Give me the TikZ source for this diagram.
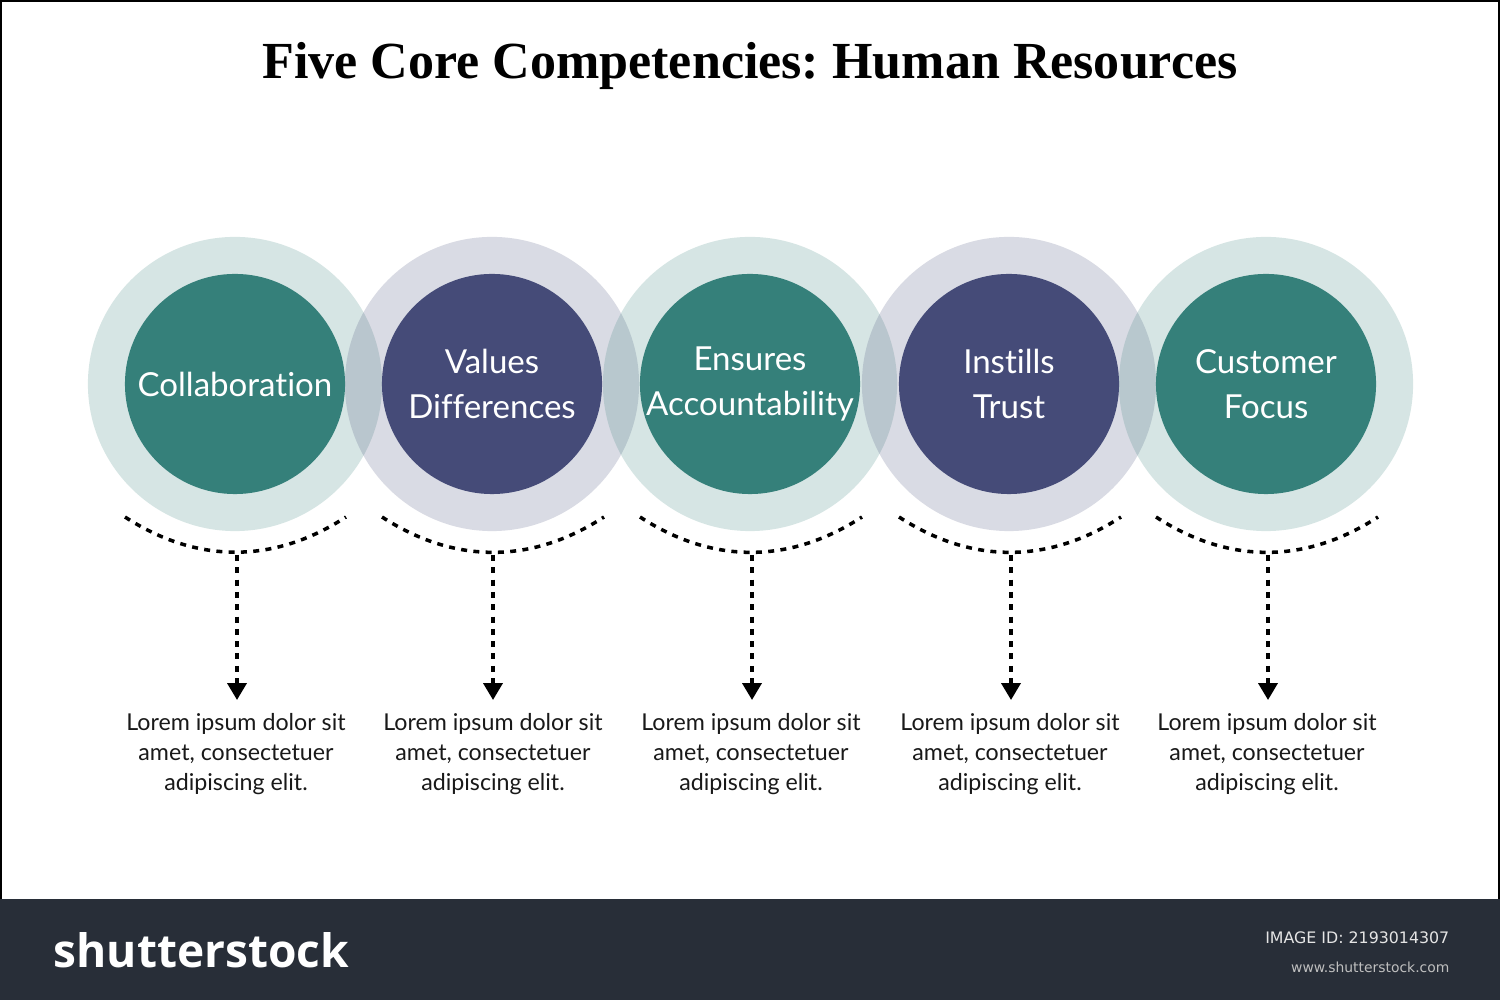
\documentclass[tikz,border=0pt]{standalone}
\usepackage{fontspec}
\setmainfont{Lato}[Ligatures=NoCommon]
\newfontfamily\titlefont{Liberation Serif}
\newfontfamily\footfont{DejaVu Sans}
\newfontfamily\logofont{Open Sans}
\usetikzlibrary{arrows.meta}
\definecolor{tealdark}{HTML}{35807A}
\definecolor{navydark}{HTML}{454B78}
\definecolor{footbar}{HTML}{282E38}
\tikzset{
    halo/.style={circle, minimum size=2.94cm, inner sep=0pt, fill opacity=0.2},
    disc/.style={circle, minimum size=2.2cm, inner sep=-10pt, text=white, align=center, font=\fontsize{9.4}{12.8}\selectfont},
    dashline/.style={line width=1pt, dash pattern=on 1.7pt off 1.8pt},
    desc/.style={align=center, inner sep=0pt, text=black!90, font=\fontsize{6.6}{8.53}\selectfont}
}
\begin{document}
\begin{tikzpicture}[>={Stealth[length=4.8pt, width=5.4pt, inset=0pt]}, x=0.01cm, y=0.01cm]
            \useasboundingbox (0, 0) rectangle (1500, 1000);
            \fill[white] (0, 0) rectangle (1500, 1000);
            \draw[black, line width=0.5pt] (1, 100) -- (1, 999) -- (1499, 999) -- (1499, 100);
            \node (title) at (750, 934) {\titlefont\bfseries\frenchspacing\fontsize{14.8}{17}\selectfont Five Core Competencies: Human Resources};
            % halos first so the overlaps mix
            \node[halo, fill=tealdark] (halo1) at (235, 616) {};
            \node[halo, fill=navydark] (halo2) at (492, 616) {};
            \node[halo, fill=tealdark] (halo3) at (750, 616) {};
            \node[halo, fill=navydark] (halo4) at (1009, 616) {};
            \node[halo, fill=tealdark] (halo5) at (1266, 616) {};
            \node[disc, fill=tealdark] (collab) at (235, 616) {Collaboration};
            \node[disc, fill=navydark] (values) at (492, 616) {Values\\Differences};
            \node[disc, fill=tealdark] (ensures) at (750, 616) {Ensures\\Accountability};
            \node[disc, fill=navydark] (instills) at (1009, 616) {Instills\\Trust};
            \node[disc, fill=tealdark] (customer) at (1266, 616) {Customer\\Focus};
            % arcs under the circles
            \coordinate (arcl1) at (125, 483); \coordinate (arcr1) at (346, 483);
            \coordinate (arcl2) at (382, 483); \coordinate (arcr2) at (604, 483);
            \coordinate (arcl3) at (640, 483); \coordinate (arcr3) at (862, 483);
            \coordinate (arcl4) at (899, 483); \coordinate (arcr4) at (1121, 483);
            \coordinate (arcl5) at (1156, 483); \coordinate (arcr5) at (1378, 483);
            \draw[dashline] (arcl1) to[bend right=33] (arcr1);
            \draw[dashline] (arcl2) to[bend right=33] (arcr2);
            \draw[dashline] (arcl3) to[bend right=33] (arcr3);
            \draw[dashline] (arcl4) to[bend right=33] (arcr4);
            \draw[dashline] (arcl5) to[bend right=33] (arcr5);
            \node[desc] (desc1) at (236, 246) {Lorem ipsum dolor sit\\amet, consectetuer\\adipiscing elit.};
            \node[desc] (desc2) at (493, 246) {Lorem ipsum dolor sit\\amet, consectetuer\\adipiscing elit.};
            \node[desc] (desc3) at (751, 246) {Lorem ipsum dolor sit\\amet, consectetuer\\adipiscing elit.};
            \node[desc] (desc4) at (1010, 246) {Lorem ipsum dolor sit\\amet, consectetuer\\adipiscing elit.};
            \node[desc] (desc5) at (1267, 246) {Lorem ipsum dolor sit\\amet, consectetuer\\adipiscing elit.};
            \coordinate (top1) at (237, 445); \coordinate (end1) at (237, 300);
            \coordinate (top2) at (493, 445); \coordinate (end2) at (493, 300);
            \coordinate (top3) at (752, 445); \coordinate (end3) at (752, 300);
            \coordinate (top4) at (1011, 445); \coordinate (end4) at (1011, 300);
            \coordinate (top5) at (1268, 445); \coordinate (end5) at (1268, 300);
            \draw[dashline, ->] (top1) -- (end1);
            \draw[dashline, ->] (top2) -- (end2);
            \draw[dashline, ->] (top3) -- (end3);
            \draw[dashline, ->] (top4) -- (end4);
            \draw[dashline, ->] (top5) -- (end5);
            \fill[footbar] (0, 0) rectangle (1500, 101);
            \node[anchor=west, inner sep=0pt, text=white] (logo) at (53, 50) {\logofont\bfseries\fontsize{13.1}{16}\selectfont shutterstock};
            \node[anchor=east, inner sep=0pt, text=white!90!black] (imageid) at (1450, 62) {\footfont\fontsize{4.5}{6}\selectfont IMAGE ID: 2193014307};
            \node[anchor=east, inner sep=0pt, text=white!75!black] (site) at (1450, 33) {\footfont\fontsize{3.95}{5}\selectfont www.shutterstock.com};
        \end{tikzpicture}
\end{document}
